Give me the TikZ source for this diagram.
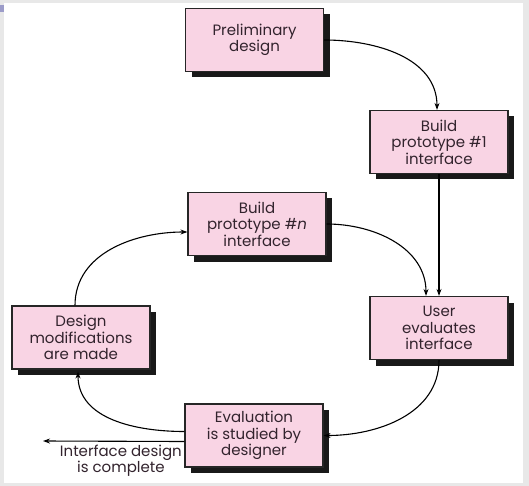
\documentclass[tikz,border=0pt]{standalone}
\usepackage{fontspec}
\setmainfont{Poppins}
\usetikzlibrary{shadows,arrows.meta}
\definecolor{boxpink}{RGB}{249,212,228}
\definecolor{inkc}{RGB}{50,35,45}
\definecolor{framec}{RGB}{232,232,232}
\begin{document}
\begin{tikzpicture}[x=1pt,y=-1pt,>={Stealth[length=7pt,width=5pt]}]
	\tikzstyle{stage}=[rectangle, draw=black!85, line width=1.2pt, fill=boxpink, text=inkc,
		minimum width=138pt, minimum height=63pt, align=center, inner sep=1pt,
		font=\fontsize{15}{16.5}\selectfont,
		drop shadow={shadow xshift=6pt, shadow yshift=-6pt, fill=black!90, opacity=1}]
	% frame
	\fill[framec] (0,0) rectangle (529,486);
	\fill[white] (4,3) rectangle (523,483);
	\fill[blue!30!gray!60] (0,5) rectangle (4,12);
	\useasboundingbox (0,0) rectangle (529,486);

	\draw node[stage] at (254.5,40) (prelim) {Preliminary\\design};
	\draw node[stage] at (439,142) (b1) {Build\\prototype \#1\\interface};
	\draw node[stage] at (257,224) (bn) {Build\\prototype \#\textit{n}\\interface};
	\draw node[stage] at (439,328) (user) {User\\evaluates\\interface};
	\draw node[stage] at (81,337.5) (mods) {Design\\modifications\\are made};
	\draw node[stage] at (254,435.5) (eval) {Evaluation\\is studied by\\designer};
	\coordinate (done) at (43,441);
	\draw node[anchor=north east, align=center, text=inkc, inner sep=1pt,
		font=\fontsize{15}{15.5}\selectfont] at (183,444) (donelabel) {Interface design\\is complete};

	\draw [->, line width=1.1pt]  (prelim.east) to[out=0, in=90] ([xshift=-2pt]b1.north);
	\draw [->, line width=1.1pt]  (b1.south) -- (user.north);
	\draw [->, line width=1.1pt]  (bn.east) to[out=0, in=90] ([xshift=-13pt]user.north);
	\draw [->, line width=1.1pt]  (user.south) to[out=-90, in=0] (eval.east);
	\draw [->, line width=1.1pt]  ([yshift=4pt]eval.west) to[out=180, in=-90] ([xshift=-3pt,yshift=-2pt]mods.south);
	\draw [->, line width=1.1pt]  ([xshift=-6pt]mods.north) to[out=90, in=180] ([yshift=-8pt]bn.west);
	\draw [->, line width=1.1pt]  ([yshift=-6pt]eval.west) -- (done);
\end{tikzpicture}
\end{document}
